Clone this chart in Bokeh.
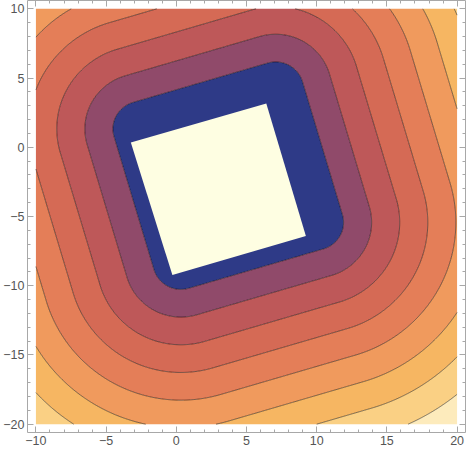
import numpy as np
from bokeh.plotting import figure
from bokeh.models import Range1d, LinearAxis, SingleIntervalTicker, CustomJSTickFormatter
from bokeh.embed import file_html
from bokeh.resources import INLINE

# ---- data ----
X_MIN, X_MAX = -10.0, 20.0
Y_MIN, Y_MAX = -20.0, 10.0

# square whose (Euclidean) distance is contoured
FIELD_CENTER_X = 3.7
FIELD_CENTER_Y = -2.05
FIELD_HALF_SIDE = 5.0
FIELD_ANGLE_DEG = 16.5

# contour levels (distance values) and band colours
LEVELS = [-1, 2, 4, 6, 8, 10, 12, 14, 16, 19]
BAND_COLORS = ["#2E3A87", "#904A6A", "#BE5859", "#D56A55", "#E47E58",
               "#F09A5D", "#F6B662", "#FAD084", "#FDEBBC"]

# cream square (region)
CREAM_X = [-3.24, 6.41, 9.23, -0.28]
CREAM_Y = [0.35, 3.17, -6.41, -9.23]
CREAM_COLOR = "#FEFEE2"

TICKS = [-20, -15, -10, -5, 0, 5, 10, 15, 20]
TICK_LABELS = {v: str(v).replace("-", "\u2212") for v in TICKS}

# ---- field ----
xs = np.linspace(X_MIN, X_MAX, 401)
ys = np.linspace(Y_MIN, Y_MAX, 401)
XX, YY = np.meshgrid(xs, ys)
th = np.deg2rad(FIELD_ANGLE_DEG)
dx = XX - FIELD_CENTER_X
dy = YY - FIELD_CENTER_Y
u = dx * np.cos(th) + dy * np.sin(th)
v = -dx * np.sin(th) + dy * np.cos(th)
qu = np.maximum(np.abs(u) - FIELD_HALF_SIDE, 0.0)
qv = np.maximum(np.abs(v) - FIELD_HALF_SIDE, 0.0)
ZZ = np.hypot(qu, qv)

pad = 0.02 * (X_MAX - X_MIN)
p = figure(frame_width=438, frame_height=432,
           x_range=Range1d(X_MIN - pad, X_MAX + pad),
           y_range=Range1d(Y_MIN - pad, Y_MAX + pad),
           output_backend="svg", toolbar_location=None,
           min_border_left=24, min_border_right=3,
           min_border_top=0, min_border_bottom=17,
           background_fill_color="white", border_fill_color="white")
p.grid.visible = False
p.outline_line_color = None

p.contour(xs, ys, ZZ, levels=LEVELS, fill_color=BAND_COLORS,
          line_color="black", line_alpha=0.55, line_width=0.9)
p.patch(CREAM_X, CREAM_Y, fill_color=CREAM_COLOR, line_color=None)

p.add_layout(LinearAxis(), "above")
p.add_layout(LinearAxis(), "right")

for ax in p.axis:
    ax.ticker = SingleIntervalTicker(interval=5, num_minor_ticks=5)
    ax.axis_line_color = "#A8A8A8"
    ax.major_tick_line_color = "#A8A8A8"
    ax.minor_tick_line_color = "#A8A8A8"
    ax.major_tick_in = 6
    ax.major_tick_out = 0
    ax.minor_tick_in = 3
    ax.minor_tick_out = 0
    ax.major_label_text_color = "#555555"
    ax.major_label_text_font = "Liberation Sans"
    ax.major_label_text_font_size = "12.5px"
    ax.major_label_standoff = 3

for ax in (p.below[0], p.left[0]):
    ax.major_label_overrides = TICK_LABELS
for ax in (p.above[0], p.right[0]):
    ax.formatter = CustomJSTickFormatter(code="return ''")
    ax.major_label_standoff = 0

open("out.html", "w").write(file_html(p, INLINE))
